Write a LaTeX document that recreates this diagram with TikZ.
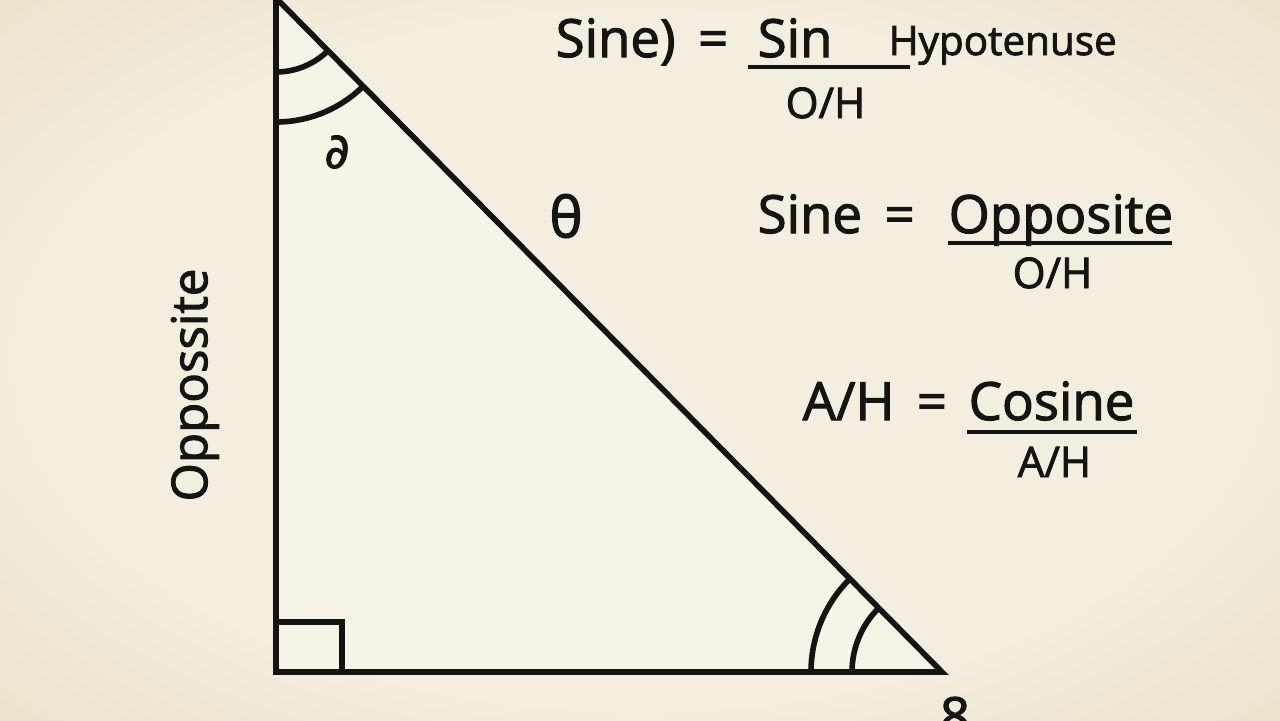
\documentclass[tikz,border=0pt]{standalone}
\usepackage{fontspec}
\setmainfont{Open Sans}[FakeBold=2]
\newfontfamily\symfont{DejaVu Sans}[FakeBold=1.5]
\usepackage{xcolor}
\usetikzlibrary{positioning}
\usetikzlibrary{calc}

\definecolor{paperin}{HTML}{F3EEDF}
\definecolor{paperout}{HTML}{E3D0AF}
\definecolor{trifill}{HTML}{F7F3E6}
\definecolor{ink}{HTML}{151412}

\pgfdeclareradialshading{paper}{\pgfpoint{0bp}{0bp}}{color(0bp)=(paperin); color(24bp)=(paperin); color(52bp)=(paperout); color(72bp)=(paperout)}

\begin{document}
\begin{tikzpicture}[x=0.01cm, y=-0.01cm,
  side/.style={draw=ink, line width=1.6pt},
  eqbig/.style={font=\fontsize{15}{18}\selectfont, text=ink, inner sep=0pt, anchor=base west},
  eqsmall/.style={font=\fontsize{12}{14}\selectfont, text=ink, inner sep=0pt, anchor=base west},
  fracbar/.style={draw=ink, line width=1.2pt}]

\useasboundingbox (0,0) rectangle (1280,720);
\shade[shading=paper] (0,0) rectangle (1280,720);

\coordinate (top) at (276,-2);
\coordinate (corner) at (276,672);
\coordinate (tip) at (942,672);
\draw[side, fill=trifill] (top) -- (corner) -- (tip) -- cycle;
\draw[side] (corner) ++(0,-50) -| ++(66,50);

\draw[side] (top) ++(0,74) arc (90:45:74);
\draw[side] (top) ++(0,124) arc (90:45:124);
\draw[side] (tip) ++(-90,0) arc (180:225:90);
\draw[side] (tip) ++(-131,0) arc (180:225:131);

\node[font={\symfont\fontsize{14}{16}\selectfont}, text=ink] (alpha) at (337,152) {∂};
\node[font=\fontsize{16}{18}\selectfont, text=ink] (theta) at (566,216) {θ};
\node[eqbig, anchor=base] (eight) at (955,735) {8};
\node[font=\fontsize{14}{16}\selectfont, text=ink, rotate=90] (opp) at (195,385) {Oppossite};

\node[eqbig] (sine1) at (555,57) {Sine) \,=};
\node[eqbig] (sin1) at (757,57) {Sin};
\node[eqsmall, font=\fontsize{11.5}{14}\selectfont] (hyp1) at (888,55) {Hypotenuse};
\draw[fracbar] (748,67) -- (910,67);
\node[eqsmall] (den1) at (785,118) {O/H};

\node[eqbig] (sine2) at (757,233) {Sine \,=};
\node[eqbig] (opp2) at (948,233) {Opposite};
\draw[fracbar] (948,243) -- (1172,243);
\node[eqsmall] (den2) at (1012,288) {O/H};

\node[eqbig] (ah3) at (802,420) {A/H \,=};
\node[eqbig] (cos3) at (968,420) {Cosine};
\draw[fracbar] (967,432) -- (1137,432);
\node[eqsmall] (den3) at (1017,477) {A/H};
\end{tikzpicture}
\end{document}
